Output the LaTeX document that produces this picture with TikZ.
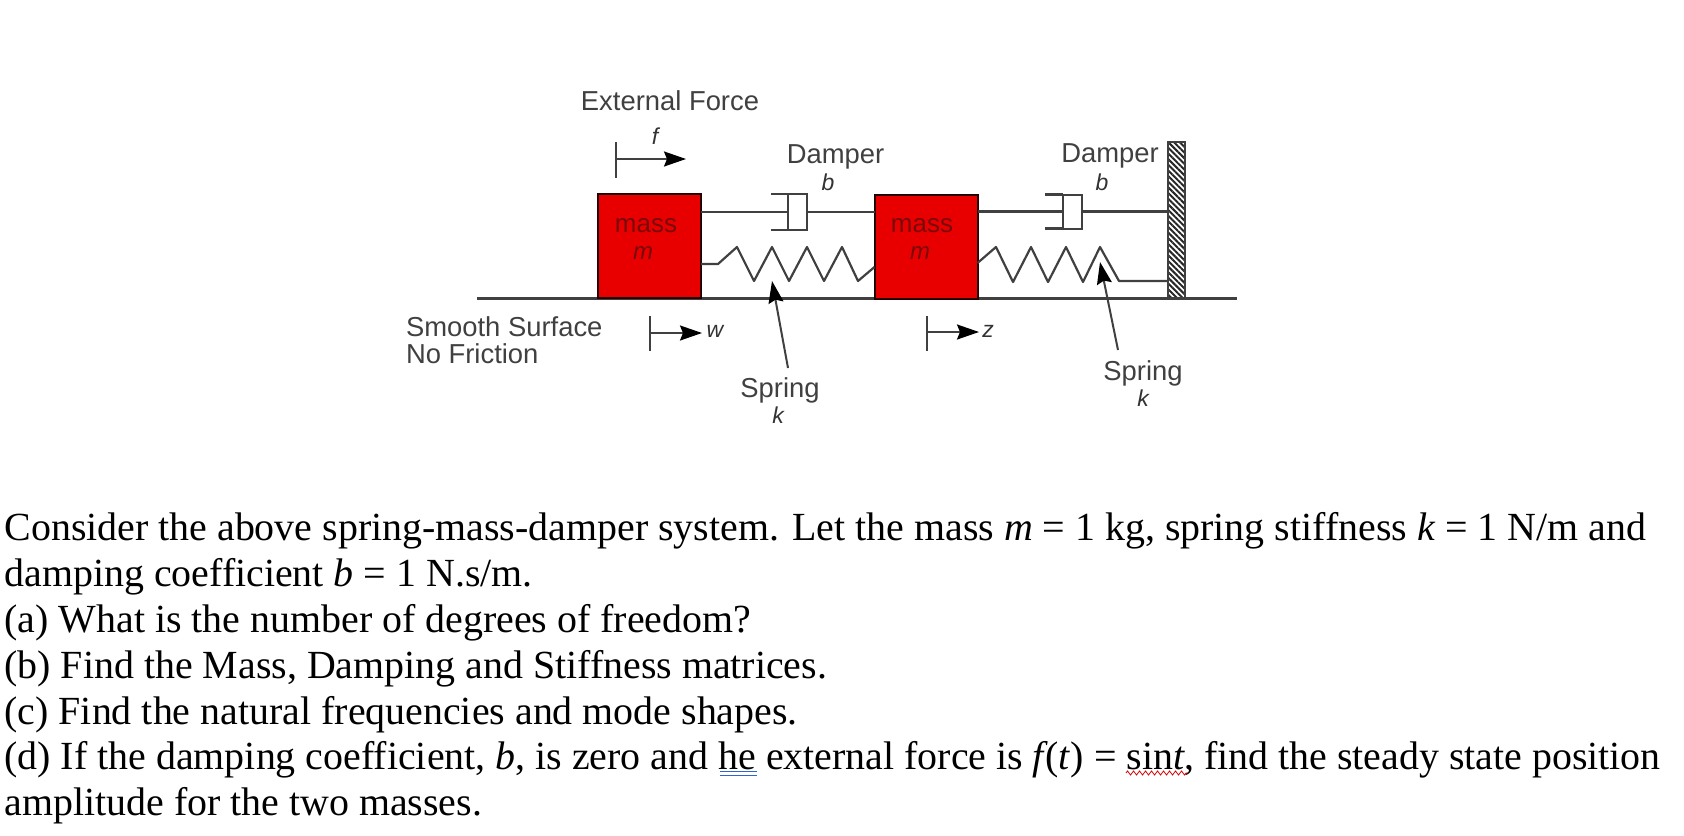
\documentclass[tikz,border=0pt]{standalone}
\usepackage{fontspec}
\setmainfont{Liberation Serif}
\newfontfamily\labelfont{Liberation Sans}
\usetikzlibrary{positioning,calc,arrows.meta,patterns.meta,decorations.pathmorphing}
\definecolor{inkgrey}{HTML}{404040}
\definecolor{massred}{HTML}{E80000}
\definecolor{masstext}{HTML}{7A0A0A}
\definecolor{hintblue}{HTML}{2E63D0}

\begin{document}
\begin{tikzpicture}[x=0.5pt, y=-0.5pt]
	\useasboundingbox (0, 0) rectangle (1684, 835);
	\tikzstyle{every node}=[inner sep=0pt, outer sep=0pt]
	\tikzstyle{lbl}=[font=\labelfont\fontsize{13.7}{16}\selectfont, text=inkgrey]
	\tikzstyle{lblit}=[font=\labelfont\itshape\fontsize{11.5}{14}\selectfont, text=black!80]
	\tikzstyle{masslbl}=[font=\labelfont\fontsize{13}{16}\selectfont, text=masstext]
	\tikzstyle{massit}=[font=\labelfont\itshape\fontsize{12}{16}\selectfont, text=masstext]
	\tikzstyle{massbox}=[draw=black!85!red, line width=1pt, fill=massred, minimum width=51.5pt, minimum height=52pt]
	\tikzstyle{wire}=[inkgrey, line width=1.1pt]
	\tikzstyle{pointer}=[inkgrey, line width=1pt, -{Stealth[length=11pt, width=7.5pt, inset=1.5pt, color=black]}]
	\tikzstyle{qline}=[anchor=base west, font=\fontsize{19.95}{24}\selectfont]

	% masses and wall
	\draw [inkgrey, line width=1.5pt] (477, 298.5) -- (1237, 298.5);
	\node [massbox] (masa) at (649.5, 246) {};
	\node [massbox] (masb) at (926, 246.5) {};
	\node [draw=inkgrey, line width=0.8pt, fill=white, minimum width=8.5pt, minimum height=78pt,
		pattern={Lines[angle=-45, distance=2pt, line width=1pt]}, pattern color=black!85] (wall) at (1176.5, 220) {};

	\node [masslbl] (massa) at (646, 226) {mass};
	\node [massit]  (ma)    at (643, 253) {m};
	\node [masslbl] (massb) at (922, 226) {mass};
	\node [massit]  (mb)    at (920, 253) {m};

	% first damper
	\coordinate (daL) at (masa.east |- 0, 212);
	\coordinate (daR) at (masb.west |- 0, 212);
	\node [draw=inkgrey, line width=1pt, fill=white, minimum width=9.5pt, minimum height=18pt] (cyla) at (797.5, 212) {};
	\draw [wire] (daL) -- (cyla.west);
	\draw [wire] (cyla.east) -- (daR);
	\draw [wire] (cyla.north west) -- ++(-17, 0);
	\draw [wire] (cyla.south west) -- ++(-17, 0);

	% second damper
	\coordinate (dbL) at (masb.east |- 0, 211.5);
	\coordinate (dbR) at (wall.west |- 0, 211.5);
	\node [draw=inkgrey, line width=1pt, fill=white, minimum width=9.5pt, minimum height=17pt] (cylb) at (1072.5, 211.5) {};
	\draw [wire] (dbL) -- (cylb.west);
	\draw [wire] (cylb.east) -- (dbR);
	\draw [wire] (cylb.north west) -- ++(-18, 0);
	\draw [wire] (cylb.south west) -- ++(-18, 0);

	% springs
	\coordinate (spaL) at (masa.east |- 0, 264);
	\coordinate (spaR) at (masb.west |- 0, 267);
	\draw [wire, line join=round] (spaL) -- (718, 264) -- (737, 247) -- (754, 281) -- (772, 247) -- (789, 281)
		-- (807, 247) -- (824, 281) -- (842, 247) -- (858, 281) -- (spaR);
	\coordinate (spbL) at (masb.east |- 0, 263);
	\coordinate (spbR) at (wall.west |- 0, 281);
	\draw [wire, line join=round] (spbL) -- (996, 247) -- (1013, 282) -- (1031, 247) -- (1048, 282)
		-- (1066, 247) -- (1083, 282) -- (1100, 247) -- (1119, 281) -- (spbR);

	% force and displacements
	\coordinate (fbar) at (616, 159);
	\coordinate (ftip) at (686, 159);
	\draw [wire] (616, 142) -- (616, 178);
	\draw [pointer] (fbar) -- (ftip);
	\node [lblit] (f) at (655, 136) {f};
	\node [lbl] (extf) at (670, 101) {External Force};

	\coordinate (wbar) at (650, 333);
	\coordinate (wtip) at (702, 333);
	\draw [wire] (650, 316) -- (650, 351);
	\draw [pointer] (wbar) -- (wtip);
	\node [lblit] (w) at (715, 331) {w};

	\coordinate (zbar) at (927, 332);
	\coordinate (ztip) at (979, 332);
	\draw [wire] (927, 316) -- (927, 351);
	\draw [pointer] (zbar) -- (ztip);
	\node [lblit] (z) at (988, 331) {z};

	% labels
	\node [lbl] (dampa) at (835.5, 157) {Damper};
	\node [lblit] (ba) at (828, 182) {b};
	\node [lbl] (dampb) at (1110, 156) {Damper};
	\node [lblit] (bb) at (1102, 182) {b};

	\node [lbl, anchor=west] (smooth) at (406, 327) {Smooth Surface};
	\node [lbl, anchor=west] (nofr) at (406, 354) {No Friction};

	\node [lbl] (sprlba) at (780, 390) {Spring};
	\node [lblit] (ka) at (778, 415) {k};
	\node [lbl] (sprlbb) at (1143, 373) {Spring};
	\node [lblit] (kb) at (1143, 398) {k};

	\coordinate (ptaT) at (772, 281);
	\coordinate (ptbT) at (1100, 262);
	\draw [pointer] (788, 368) -- (ptaT);
	\draw [pointer] (1118, 350) -- (ptbT);

	% question text
	\node [qline] (qa) at (4.5, 540) {Consider the above spring-mass-damper system. Let the mass \textit{m} = 1 kg, spring stiffness \textit{k} = 1 N/m and};
	\node [qline] (qb) at (4.5, 586) {damping coefficient \textit{b} = 1 N.s/m.};
	\node [qline] (qc) at (4.5, 632) {(a) What is the number of degrees of freedom?};
	\node [qline] (qd) at (4.5, 678) {(b) Find the Mass, Damping and Stiffness matrices.};
	\node [qline] (qe) at (4.5, 724) {(c) Find the natural frequencies and mode shapes.};
	\node [qline] (qf) at (4.5, 769.5) {(d) If the damping coefficient, \textit{b}, is zero and he external force is \textit{f}\kern-1.5pt(\textit{t}) = sin\textit{t}, find the steady state position};
	\node [qline] (qg) at (4.5, 815) {amplitude for the two masses.};

	% proofing marks
	\draw [hintblue, line width=0.6pt] (720, 771.5) -- (757, 771.5);
	\draw [hintblue, line width=0.6pt] (720, 775.5) -- (757, 775.5);
	\draw [red!85!black, line width=0.4pt, decorate, decoration={zigzag, segment length=3pt, amplitude=1pt}] (1126, 773) -- (1188, 773);
\end{tikzpicture}
\end{document}
